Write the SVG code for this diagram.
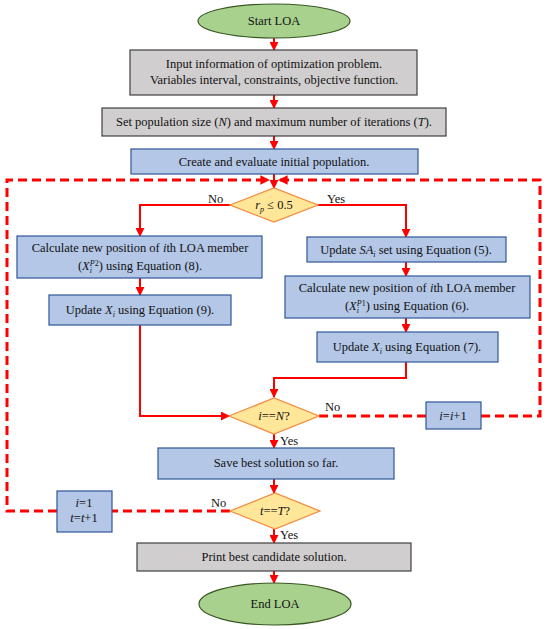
<svg xmlns="http://www.w3.org/2000/svg" width="550" height="629" viewBox="0 0 550 629">
<defs>
<marker id="ah" viewBox="0 0 10 10" refX="9" refY="5" markerWidth="4.5" markerHeight="4.5" orient="auto" markerUnits="strokeWidth">
<path d="M0,0 L10,5 L0,10 z" fill="#ff0000"/>
</marker>
<marker id="ahd" viewBox="0 0 10 10" refX="9" refY="5" markerWidth="3.2" markerHeight="3.2" orient="auto" markerUnits="strokeWidth">
<path d="M0,0 L10,5 L0,10 z" fill="#ff0000"/>
</marker>
<style>
text{font-family:"Liberation Serif","Times New Roman",serif;font-size:12.5px;fill:#111;}
.c{text-anchor:middle;}
.gray{fill:#d0cece;stroke:#404040;stroke-width:1.2;}
.blue{fill:#b4c7e7;stroke:#2f5597;stroke-width:1.2;}
.dia{fill:#ffe699;stroke:#f4893c;stroke-width:1.2;}
.ell{fill:#a9d18e;stroke:#385723;stroke-width:1.2;}
.ln{fill:none;stroke:#ff0000;stroke-width:2;}
.dl{fill:none;stroke:#ff0000;stroke-width:3;stroke-dasharray:9,5;}
.i{font-style:italic;}
.s{font-size:8px;}
</style>
</defs>
<rect width="550" height="629" fill="#ffffff"/>

<g id="connectors">
<line class="ln" x1="274" y1="38" x2="274" y2="50" marker-end="url(#ah)"/>
<line class="ln" x1="274" y1="95" x2="274" y2="108" marker-end="url(#ah)"/>
<line class="ln" x1="274" y1="136" x2="274" y2="149" marker-end="url(#ah)"/>
<line class="ln" x1="274" y1="174" x2="274" y2="188" marker-end="url(#ah)"/>
<polyline class="ln" points="230,205 140,205 140,236" marker-end="url(#ah)"/>
<polyline class="ln" points="318,205 406,205 406,237" marker-end="url(#ah)"/>
<line class="ln" x1="140" y1="278" x2="140" y2="295" marker-end="url(#ah)"/>
<polyline class="ln" points="140,325 140,416 229,416" marker-end="url(#ah)"/>
<line class="ln" x1="406" y1="262" x2="406" y2="276" marker-end="url(#ah)"/>
<line class="ln" x1="406" y1="318" x2="406" y2="332" marker-end="url(#ah)"/>
<polyline class="ln" points="406,362 406,378 274,378 274,397" marker-end="url(#ah)"/>
<line class="ln" x1="274" y1="434" x2="274" y2="448" marker-end="url(#ah)"/>
<line class="ln" x1="274" y1="479" x2="274" y2="493" marker-end="url(#ah)"/>
<line class="ln" x1="274" y1="529" x2="274" y2="543" marker-end="url(#ah)"/>
<line class="ln" x1="274" y1="571" x2="274" y2="583" marker-end="url(#ah)"/>
<line class="dl" x1="319" y1="416" x2="426" y2="416"/>
<polyline class="dl" points="481,416 540,416 540,180 279,180" marker-end="url(#ahd)"/>
<line class="dl" x1="230" y1="511" x2="112" y2="511"/>
<polyline class="dl" points="57,511 7,511 7,180 269,180" marker-end="url(#ahd)"/>
<text x="208" y="203">No</text>
<text x="327" y="203">Yes</text>
<text x="325" y="411">No</text>
<text x="280" y="445">Yes</text>
<text x="211" y="507">No</text>
<text x="280" y="539">Yes</text>
</g>

<g id="start">
<ellipse class="ell" cx="274" cy="21" rx="76" ry="17"/>
<text class="c" x="274" y="25">Start LOA</text>
</g>
<g id="input">
<rect class="gray" x="130" y="50" width="287" height="45"/>
<text class="c" x="274" y="68">Input information of optimization problem.</text>
<text class="c" x="274" y="84">Variables interval, constraints, objective function.</text>
</g>
<g id="setpop">
<rect class="gray" x="102" y="108" width="344" height="28"/>
<text class="c" x="274" y="126">Set population size (<tspan class="i">N</tspan>) and maximum number of iterations (<tspan class="i">T</tspan>).</text>
</g>
<g id="create">
<rect class="blue" x="131" y="149" width="287" height="25"/>
<text class="c" x="274" y="166">Create and evaluate initial population.</text>
</g>
<g id="dec_rp">
<polygon class="dia" points="230,205 274,188 318,205 274,222"/>
<text class="c" x="274" y="209"><tspan class="i">r</tspan><tspan class="i s" dy="3">p</tspan><tspan dy="-3"> ≤ 0.5</tspan></text>
</g>
<g id="calc_p2">
<rect class="blue" x="17" y="236" width="245" height="42"/>
<text class="c" x="140" y="252">Calculate new position of <tspan class="i">i</tspan>th LOA member</text>
<text class="c" x="140" y="270">(<tspan class="i">X</tspan><tspan class="i s" dy="2.5">i</tspan><tspan class="i s" dx="-2.2" dy="-7">P</tspan><tspan class="s">2</tspan><tspan dy="4.5">) using Equation (8).</tspan></text>
</g>
<g id="update9">
<rect class="blue" x="49" y="295" width="182" height="30"/>
<text class="c" x="140" y="314">Update <tspan class="i">X</tspan><tspan class="i s" dy="3">i</tspan><tspan dy="-3">  using Equation (9).</tspan></text>
</g>
<g id="updateSA">
<rect class="blue" x="307" y="237" width="199" height="25"/>
<text class="c" x="406" y="254">Update <tspan class="i">SA</tspan><tspan class="i s" dy="3">i</tspan><tspan dy="-3">  set using Equation (5).</tspan></text>
</g>
<g id="calc_p1">
<rect class="blue" x="285" y="276" width="245" height="42"/>
<text class="c" x="407" y="292">Calculate new position of <tspan class="i">i</tspan>th LOA member</text>
<text class="c" x="407" y="310">(<tspan class="i">X</tspan><tspan class="i s" dy="2.5">i</tspan><tspan class="i s" dx="-2.2" dy="-7">P</tspan><tspan class="s">1</tspan><tspan dy="4.5">) using Equation (6).</tspan></text>
</g>
<g id="update7">
<rect class="blue" x="317" y="332" width="181" height="30"/>
<text class="c" x="407" y="351">Update <tspan class="i">X</tspan><tspan class="i s" dy="3">i</tspan><tspan dy="-3">  using Equation (7).</tspan></text>
</g>
<g id="dec_iN">
<polygon class="dia" points="229,416 274,398 319,416 274,434"/>
<text class="c" x="274" y="420"><tspan class="i">i</tspan>==<tspan class="i">N</tspan>?</text>
</g>
<g id="inc_i">
<rect class="blue" x="426" y="402" width="55" height="27"/>
<text class="c" x="453" y="420"><tspan class="i">i</tspan>=<tspan class="i">i</tspan>+1</text>
</g>
<g id="save">
<rect class="blue" x="158" y="448" width="236" height="31"/>
<text class="c" x="276" y="467">Save best solution so far.</text>
</g>
<g id="dec_tT">
<polygon class="dia" points="230,511 275,493 320,511 275,529"/>
<text class="c" x="275" y="515"><tspan class="i">t</tspan>==<tspan class="i">T</tspan>?</text>
</g>
<g id="reset">
<rect class="blue" x="57" y="491" width="55" height="41"/>
<text class="c" x="84" y="507"><tspan class="i">i</tspan>=1</text>
<text class="c" x="84" y="522"><tspan class="i">t</tspan>=<tspan class="i">t</tspan>+1</text>
</g>
<g id="print">
<rect class="gray" x="137" y="543" width="274" height="28"/>
<text class="c" x="274" y="561">Print best candidate solution.</text>
</g>
<g id="end">
<ellipse class="ell" cx="275" cy="604" rx="76" ry="21"/>
<text class="c" x="275" y="608">End LOA</text>
</g>
</svg>
